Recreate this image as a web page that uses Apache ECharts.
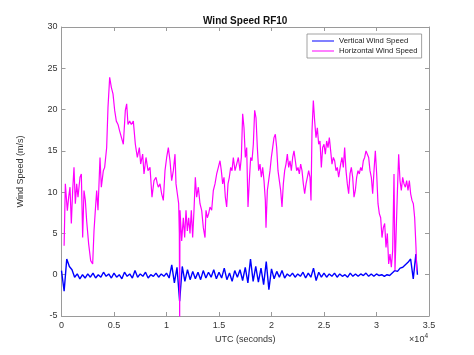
<!DOCTYPE html>
<html><head><meta charset="utf-8">
<script src="https://cdn.jsdelivr.net/npm/echarts@6/dist/echarts.min.js"></script>
<style>html,body{margin:0;padding:0;background:#fff}#c{width:474px;height:355px}</style>
</head><body><div id="c"></div>
<script>
const chartTitle = 'Wind Speed RF10';
const seriesNames = ['Vertical Wind Speed', 'Horizontal Wind Speed'];
const xTicks = [0, 5000, 10000, 15000, 20000, 25000, 30000, 35000];
const yTicks = [-5, 0, 5, 10, 15, 20, 25, 30];

const vertTime = [0,250,500,750,1000,1250,1500,1750,2000,2250,2500,2750,3000,3250,3500,3750,4000,4250,4500,4750,5000,5250,5500,5750,6000,6250,6500,6750,7000,7250,7500,7750,8000,8250,8500,8750,9000,9250,9500,9750,10000,10250,10500,10750,11000,11250,11500,11750,12000,12250,12500,12750,13000,13250,13500,13750,14000,14250,14500,14750,15000,15250,15500,15750,16000,16250,16500,16750,17000,17250,17500,17750,18000,18250,18500,18750,19000,19250,19500,19750,20000,20250,20500,20750,21000,21250,21500,21750,22000,22250,22500,22750,23000,23250,23500,23750,24000,24250,24500,24750,25000,25250,25500,25750,26000,26250,26500,26750,27000,27250,27500,27750,28000,28250,28500,28750,29000,29250,29500,29750,30000,30250,30500,30750,31000,31250,31500,31750,32000,32250,32500,32750,33000,33250,33500,33750,33900];
const vertSpeed = [0.5,-2.0,1.9,1.0,0.6,-0.3,0.1,-0.5,0.0,-0.4,
0.1,-0.3,0.2,-0.4,0.0,-0.3,0.3,-0.2,0.1,-0.4,
0.2,-0.3,0.0,-0.5,0.3,-0.2,0.1,-0.4,0.5,-0.3,
0.1,-0.2,0.3,-0.4,0.0,-0.2,0.2,-0.3,0.1,-0.2,
0.2,-0.4,1.2,-1.0,0.9,-3.2,1.0,-0.8,0.6,-0.6,
0.4,-0.5,0.3,-0.6,0.5,-0.4,0.3,-0.3,0.6,-0.5,
0.3,-0.4,0.8,-0.6,0.2,-0.8,0.5,-0.3,0.6,-0.7,
0.9,-1.0,1.9,-0.8,1.0,-0.9,0.8,-1.2,1.6,-1.8,
0.7,-0.5,0.4,-0.3,0.5,-0.4,0.1,-0.2,0.2,-0.3,
0.1,-0.2,0.3,-0.4,0.2,-0.3,0.8,-0.7,0.3,-0.3,
0.2,-0.3,0.1,-0.2,0.2,-0.3,0.1,-0.2,0.0,-0.3,
0.2,-0.2,0.1,-0.2,0.1,-0.1,0.2,-0.2,0.1,-0.2,
0.1,-0.1,0.0,-0.2,0.0,-0.1,0.2,0.5,0.4,0.8,
0.9,1.2,1.5,1.9,-0.5,2.5,0.0];

const horizTime = [250,365,555,683,810,936,1064,1190,1317,1445,1571,1762,1889,2016,2143,2270,2397,2588,2778,2969,3095,3222,3350,3476,3667,3793,3984,4111,4302,4429,4588,4746,4905,5064,5222,5381,5540,5698,5889,6079,6207,6333,6492,6651,6841,7032,7222,7413,7540,7730,7857,8048,8238,8429,8619,8810,9000,9127,
9222,9381,9540,9698,9857,10016,10175,10333,10492,10651,10810,10905,11032,11159,11222,11254,11286,11445,11603,11730,11857,11984,12111,12238,12365,12492,12619,12746,12873,13032,13190,13349,13508,13667,13762,13889,14016,14143,14302,14460,14619,14778,14937,15095,15222,15349,15476,15603,15730,15857,15984,16111,16238,16365,16524,16683,16841,17000,17127,17254,17381,17508,17635,17762,17889,
18016,18143,18270,18397,18524,18651,18778,18905,19032,19159,19286,19413,19476,19603,19730,19857,19984,20111,20238,20365,20492,20619,20746,20873,21000,21127,21254,21381,21508,21635,21762,21889,22016,22143,22270,22397,22524,22651,22778,22905,23032,23159,23286,23413,23540,23667,23762,23857,23984,24111,24238,24365,24492,24619,24746,24873,25000,25127,25254,25381,25508,25635,25762,25889,26016,26143,26270,26397,26587,
26714,26841,26968,27095,27222,27349,27476,27603,27730,27857,27984,28111,28238,28365,28492,28619,28746,28873,29000,29127,29254,29381,29508,29635,29762,29889,30016,30143,30270,30397,30524,30651,30778,30905,31032,31159,31286,31413,31540,31667,31762,31857,31984,32111,32238,32365,32492,32619,32746,32873,33000,33127,33254,33381,33508,33635,33762,33825];
const horizSpeed = [3.5,11,7.75,9.4,10.6,6.2,10.2,13,8.6,11,9.4,11.8,12.2,4.5,10.2,9,6.5,3.7,1.7,1.3,5.3,7.8,10.2,7.8,14.2,10.6,12.6,13,15.4,20.3,23.9,22.7,21.9,19.9,18.6,18.2,17.4,17.6,15.8,19.9,20.7,18.2,18.6,18.2,18.6,15.8,14.2,15.4,13.4,14.6,12.2,14.2,12.6,13,9.4,11.4,11.8,11,
10.6,11,9.8,9,12.6,14.2,15.4,13.8,11.4,12.6,14.6,11,9.8,8.6,5,-5.5,7.8,4.1,6.9,4.5,7.8,5.3,6.9,5,7.8,4.5,7.8,11.8,9.4,10.6,8.6,7.8,5.7,4.5,7.8,6.9,7.4,8.2,7.8,10.2,11,12.2,13,13.8,12.6,11,11.8,9.4,8.2,11,11.8,13,12.6,14.2,12.6,13.4,14.2,12.6,14.2,19.5,17.8,14.2,15.4,8.2,11.4,
14.2,13.8,15.8,19.9,19.0,15.4,12.6,13.4,11.8,13,11.4,9,5.7,10.2,11.4,12.6,14.2,15.4,16.6,17,15.4,12.6,11.4,10.2,8.2,11,12.6,13.4,14.6,13,13.8,12.6,14.2,15,13.8,12.6,13,12.2,13.4,12.6,11,9.8,11,11.8,12.6,11.8,9,17.4,21.1,18.6,16.6,17.8,15.8,16.2,13,15.4,15.8,14.6,16.2,15.4,16.6,15,13.4,14.2,13.8,12.6,13,11.8,13.4,
14.2,13,15.4,12.6,11,9.8,12.2,13,11.8,9.4,10.2,11.8,12.6,12.2,13,12.6,13.8,14.2,15,14.6,14.2,12.6,11.8,9.8,12.6,15,12.2,8.6,7.4,6.9,4.5,5.7,6.2,3.3,5,1.3,2.5,0.9,2.9,12.2,0.5,4.5,9.8,14.6,11.4,10.2,11.8,11,10.6,11.4,10.2,11.4,9.8,9,8.6,6.9,3.3,0.5];

const vertData = vertTime.map((t, i) => [t, vertSpeed[i]]);
const horizData = horizTime.map((t, i) => [t, horizSpeed[i]]);

const FONT = 'Liberation Sans, Arial, Helvetica, sans-serif';
const axisGray = '#9a9a9a';
const labelColor = '#333';

const chart = echarts.init(document.getElementById('c'), null, {renderer: 'canvas'});
const baseX = {
  type: 'value', min: xTicks[0], max: xTicks[xTicks.length - 1], interval: 5000,
  splitLine: {show: false},
  axisLine: {show: true, onZero: false, lineStyle: {color: axisGray, width: 1}},
  axisTick: {show: true, inside: true, length: 4, lineStyle: {color: axisGray}},
};
const baseY = {
  type: 'value', min: yTicks[0], max: yTicks[yTicks.length - 1], interval: 5,
  splitLine: {show: false},
  axisLine: {show: true, onZero: false, lineStyle: {color: axisGray, width: 1}},
  axisTick: {show: true, inside: true, length: 4, lineStyle: {color: axisGray}},
};
chart.setOption({
  animation: false,
  backgroundColor: '#fff',
  title: {
    text: chartTitle, left: 198, top: 11,
    textStyle: {fontFamily: FONT, fontSize: 10, fontWeight: 'bold', color: '#111'}
  },
  grid: {left: 61.5, right: 45, top: 27, bottom: 39, containLabel: false},
  legend: {
    data: seriesNames, orient: 'vertical', left: 307, top: 34,
    backgroundColor: '#fff', borderColor: '#8a8a8a', borderWidth: 0.8,
    padding: [3, 4, 3, 5], itemGap: 2, itemWidth: 22, itemHeight: 1, icon: 'rect',
    textStyle: {fontFamily: FONT, fontSize: 7.7, color: '#222', padding: [0, 0, 0, 0]}
  },
  xAxis: [
    Object.assign({}, baseX, {
      position: 'bottom',
      name: 'UTC (seconds)', nameLocation: 'middle', nameGap: 16,
      nameTextStyle: {fontFamily: FONT, fontSize: 9, color: labelColor},
      axisLabel: {fontFamily: FONT, fontSize: 9, color: labelColor, margin: 5,
        formatter: v => String(v / 10000)}
    }),
    Object.assign({}, baseX, {position: 'top', axisLabel: {show: false}})
  ],
  yAxis: [
    Object.assign({}, baseY, {
      position: 'left',
      name: 'Wind Speed (m/s)', nameLocation: 'middle', nameGap: 36, nameRotate: 90,
      nameTextStyle: {fontFamily: FONT, fontSize: 9, color: labelColor},
      axisLabel: {fontFamily: FONT, fontSize: 9, color: labelColor, margin: 4}
    }),
    Object.assign({}, baseY, {position: 'right', axisLabel: {show: false}})
  ],
  graphic: [{
    type: 'text', right: 46, top: 333,
    style: {
      text: '{a|×10}{b|4}', fill: labelColor,
      rich: {a: {fontFamily: FONT, fontSize: 9, color: labelColor}, b: {fontFamily: FONT, fontSize: 6.5, color: labelColor, verticalAlign: 'top', padding: [0, 0, 6, 0]}}
    }
  }],
  series: [
    {name: seriesNames[0], type: 'line', data: vertData, showSymbol: false, clip: true,
     itemStyle: {color: '#0000ff'}, lineStyle: {color: '#0000ff', width: 1.4}},
    {name: seriesNames[1], type: 'line', data: horizData, showSymbol: false, clip: true,
     itemStyle: {color: '#ff00ff'}, lineStyle: {color: '#ff00ff', width: 1.2}}
  ]
});
</script></body></html>
